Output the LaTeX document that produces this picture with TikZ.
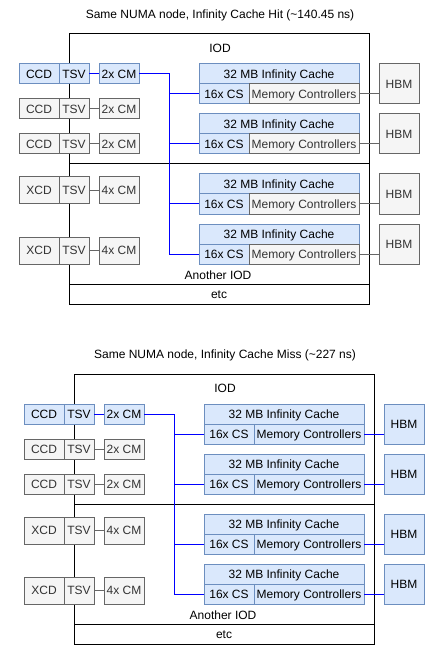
\documentclass[tikz,border=0pt]{standalone}
\usepackage{fontspec}
\setmainfont{Liberation Sans}
\usetikzlibrary{positioning}

\definecolor{boxblue}{HTML}{DAE8FC}
\definecolor{edgeblue}{HTML}{6C8EBF}
\definecolor{boxgrey}{HTML}{F5F5F5}
\definecolor{edgegrey}{HTML}{666666}
\definecolor{textgrey}{HTML}{333333}
\definecolor{linkblue}{HTML}{0000FF}

\tikzset{
  chip/.style={draw, line width=1pt, inner sep=0pt, outer sep=0pt, anchor=north west,
    text height=8.6pt, text depth=0pt, font=\fontsize{12}{14}\selectfont},
  bluebox/.style={chip, fill=boxblue, draw=edgeblue, text=black},
  greybox/.style={chip, fill=boxgrey, draw=edgegrey, text=textgrey},
  diebox/.style={chip, draw=black, minimum width=300pt},
  bluelink/.style={draw=linkblue, line width=1pt},
  greylink/.style={draw=edgegrey, line width=1pt},
  caption text/.style={inner sep=0pt, font=\fontsize{12}{14}\selectfont},
}

\begin{document}
\begin{tikzpicture}[x=1pt, y=-1pt]
  \useasboundingbox (0,0) rectangle (443,660);
  \foreach \pan/\dx/\dy/\lat/\farbox/\farlink in {
      hit/0/0/{Hit (\textasciitilde140.45 ns)}/greybox/greylink,
      miss/5/340/{Miss (\textasciitilde227 ns)}/bluebox/bluelink} {
    \begin{scope}[shift={(\dx,\dy)}]
      \node[caption text] (\pan-title) at (220,15) {Same NUMA node, Infinity Cache \lat};

      % IOD, another IOD, etc
      \node[diebox, minimum height=130pt] (\pan-iod) at (69,34) {};
      \node[diebox, minimum height=120pt, below=0pt of \pan-iod] (\pan-iodb) {};
      \node[diebox, minimum height=20pt, below=0pt of \pan-iodb] (\pan-etc) {etc};
      \node[caption text] (\pan-iodname) at (220,48) {IOD};
      \node[caption text] (\pan-iodbname) at (218,275) {Another IOD};

      % compute dies
      \foreach \r/\y/\rowh/\chipname/\cmtext/\rowstyle/\rowlink in {
          1/64/20/CCD/2x CM/bluebox/bluelink,
          2/99/20/CCD/2x CM/greybox/greylink,
          3/134/20/CCD/2x CM/greybox/greylink,
          4/177/27/XCD/4x CM/greybox/greylink,
          5/237/27/XCD/4x CM/greybox/greylink} {
        \node[\rowstyle, minimum width=40pt, minimum height=\rowh pt] (\pan-die\r) at (19,\y) {\chipname};
        \node[\rowstyle, minimum width=30pt, minimum height=\rowh pt, right=0pt of \pan-die\r] (\pan-tsv\r) {TSV};
        \node[\rowstyle, minimum width=40pt, minimum height=\rowh pt, right=10pt of \pan-tsv\r] (\pan-cm\r) {\cmtext};
        \draw[\rowlink] (\pan-tsv\r) -- (\pan-cm\r);
      }

      % cache slices and memory
      \coordinate (\pan-bus) at (169,74);
      \foreach \k/\y in {1/64, 2/114, 3/174, 4/224} {
        \node[bluebox, minimum width=160pt, minimum height=20pt] (\pan-ic\k) at (199,\y) {32 MB Infinity Cache};
        \node[bluebox, minimum width=50pt, minimum height=20pt] (\pan-cs\k) at (\pan-ic\k.south west) {16x CS};
        \node[\farbox, minimum width=110pt, minimum height=20pt, right=0pt of \pan-cs\k] (\pan-mc\k) {Memory Controllers};
        \node[\farbox, minimum width=40pt, minimum height=40pt] (\pan-hbm\k) at (379,\y) {HBM};
        \draw[\farlink] (\pan-mc\k) -- (\pan-mc\k -| \pan-hbm\k.west);
        \draw[bluelink] (\pan-cm1) -- (\pan-bus) |- (\pan-cs\k);
      }
    \end{scope}
  }
\end{tikzpicture}
\end{document}
